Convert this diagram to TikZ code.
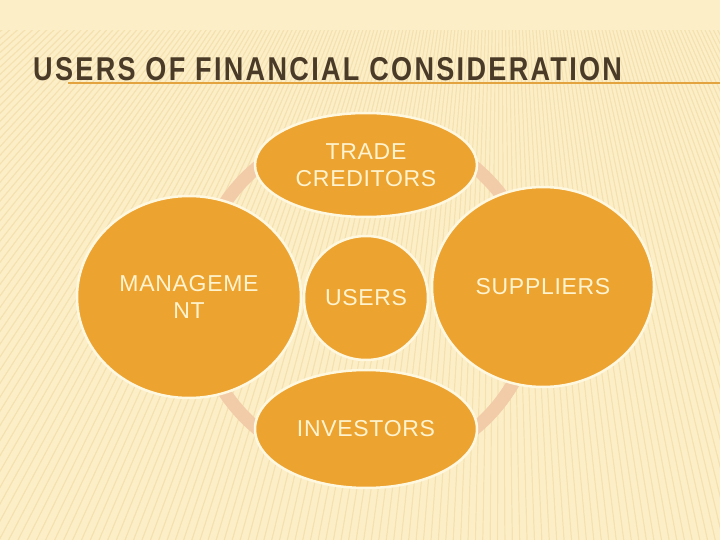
\documentclass[tikz,border=0pt]{standalone}
\usepackage{fontspec}
\setmainfont[LetterSpace=3]{Liberation Sans}
\newfontfamily\titlefont[FakeStretch=0.82,LetterSpace=7]{Liberation Sans Bold}
\usetikzlibrary{shapes.geometric}
\definecolor{bg}{HTML}{FCEFC8}
\definecolor{stripe}{HTML}{EFD69C}
\definecolor{nodefill}{HTML}{EDA330}
\definecolor{nodeedge}{HTML}{FFF8E1}
\definecolor{nodetext}{HTML}{FFF4CF}
\definecolor{ringcol}{HTML}{F2CBA9}
\definecolor{titlecol}{HTML}{4A3A28}
\definecolor{rulecol}{HTML}{E3A33F}
\begin{document}
\begin{tikzpicture}[x=1pt,y=-1pt,
  bubble/.style={ellipse, fill=nodefill, draw=nodeedge, line width=2.5pt, inner sep=0pt,
    text=nodetext, font=\fontsize{23}{27}\selectfont, align=center},
  ringline/.style={draw=ringcol, line width=13pt},
  stripeline/.style={draw=stripe, line width=1.2pt, opacity=0.55}]
\fill[bg] (0,0) rectangle (720,540);
\useasboundingbox (0,0) rectangle (720,540);
\begin{scope}
  \clip (0,31) rectangle (720,540);
  \foreach \a in {60,60.45,...,140} \draw[stripeline] (500,-400) -- ++(\a:1400);
\end{scope}
% title
\node[anchor=base west, inner sep=0pt, text=titlecol, font=\titlefont\fontsize{33}{36}\selectfont]
  (title) at (33,81) {USERS OF FINANCIAL CONSIDERATION};
\coordinate (ruleL) at (68,83);
\coordinate (ruleR) at (720,83);
\draw[rulecol, line width=2pt] (ruleL) -- (ruleR);
% ring
\coordinate (hub) at (366,298);
\draw[ringline] (hub) circle (170);
% nodes
\node[bubble, minimum width=222pt, minimum height=104pt] (trade) at (366,165) {TRADE\\CREDITORS};
\node[bubble, minimum width=224pt, minimum height=202pt] (mgmt) at (189,297) {MANAGEME\\NT};
\node[bubble, minimum width=222pt, minimum height=200pt] (supp) at (543,287) {SUPPLIERS};
\node[bubble, minimum width=222pt, minimum height=118pt] (inv) at (366,429) {INVESTORS};
\node[bubble, minimum width=124pt, minimum height=124pt] (users) at (366,298) {USERS};
\end{tikzpicture}
\end{document}
